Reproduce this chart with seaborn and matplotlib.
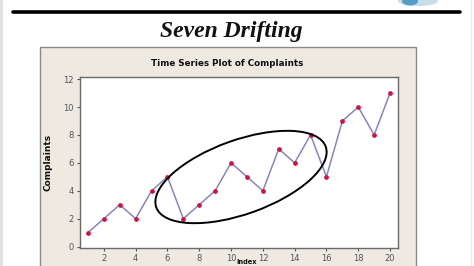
import numpy as np
import pandas as pd
import matplotlib
matplotlib.use("Agg")
import matplotlib.pyplot as plt
import matplotlib.patches as mpatches
import matplotlib.lines as mlines
import seaborn as sns

index = list(range(1, 21))
complaints = [1, 2, 3, 2, 4, 5, 2, 3, 4, 6, 5, 4, 7, 6, 8, 5, 9, 10, 8, 11]
x_ticks = [2, 4, 6, 8, 10, 12, 14, 16, 18, 20]
y_ticks = [0, 2, 4, 6, 8, 10, 12]
slide_title = "Seven Drifting"
chart_title = "Time Series Plot of Complaints"
y_label = "Complaints"
x_label = "Index"

sns.set_style("white")
plt.rcParams['font.family'] = ['DejaVu Sans']

W, H = 474, 266
fig = plt.figure(figsize=(W / 100, H / 100), dpi=100)
fig.patch.set_facecolor("white")

def fx(px):
    return px / W

def fy(py):
    return 1 - py / H

# left gray strip
fig.patches.append(mpatches.Rectangle((0, 0), fx(3), 1, transform=fig.transFigure,
                                      facecolor="#e2e2e2", edgecolor="none", zorder=0))
# faint right vertical line
fig.lines.append(mlines.Line2D([fx(471), fx(471)], [0, 1], transform=fig.transFigure,
                               color="#ececec", lw=1))
# logo fragment
fig.patches.append(mpatches.Ellipse((fx(418), fy(1)), fx(40), 10 / H, transform=fig.transFigure,
                                    facecolor="#b9d6e8", edgecolor="none", alpha=0.8))
fig.patches.append(mpatches.Ellipse((fx(410), fy(1)), fx(16), 9 / H, transform=fig.transFigure,
                                    facecolor="#3a8cbc", edgecolor="none", alpha=0.8))
# black rule
fig.lines.append(mlines.Line2D([fx(13), fx(460)], [fy(11.5), fy(11.5)], transform=fig.transFigure,
                               color="black", lw=2.6))
# slide title
fig.text(fx(231), fy(32), slide_title, ha="center", va="center", fontsize=17,
         family="Liberation Serif", fontweight="bold", fontstyle="italic", color="#111111")

# Minitab panel
fig.patches.append(mpatches.Rectangle((fx(40), fy(272)), fx(376), (272 - 47) / H, transform=fig.transFigure,
                                      facecolor="#eee9e1", edgecolor="#8a8a8a", lw=1, zorder=1))
fig.text(fx(227), fy(64), chart_title, ha="center", va="center", fontsize=6.3,
         fontweight="bold", color="#111111")

ax = fig.add_axes([fx(80), fy(248), fx(398 - 80), (248 - 77) / H])
ax.set_facecolor("white")
ax.set_zorder(2)

df = pd.DataFrame({"Index": index, "Complaints": complaints})
sns.lineplot(data=df, x="Index", y="Complaints", ax=ax, color="#8585c8", lw=1.1,
             marker="o", markersize=2.6, markerfacecolor="#d0103e", markeredgecolor="#d0103e")

ax.set_xlim(0.5, 20.5)
ax.set_ylim(-0.1, 12.15)
ax.set_xticks(x_ticks)
ax.set_yticks(y_ticks)
ax.tick_params(axis="both", labelsize=6, colors="#555555", length=2.5, width=0.8,
               direction="out", pad=2, bottom=True, left=True)
for s in ax.spines.values():
    s.set_color("#6a6a6a")
    s.set_linewidth(1)
ax.set_ylabel(y_label, fontsize=6.5, fontweight="bold", color="#111111", labelpad=8)
ax.set_xlabel("")
fig.text(fx(247), fy(262), x_label, ha="center", va="center", fontsize=4.8,
         fontweight="bold", color="#111111")

# highlight ellipse, drawn in figure inch space
ell = mpatches.Ellipse((2.41, (H - 177) / 100), 1.80, 0.74, angle=19.7,
                       transform=fig.dpi_scale_trans, facecolor="none",
                       edgecolor="black", lw=1.4, zorder=5)
ell.set_clip_on(False)
ax.add_artist(ell)

fig.savefig("out.png", dpi=100, facecolor="white")
